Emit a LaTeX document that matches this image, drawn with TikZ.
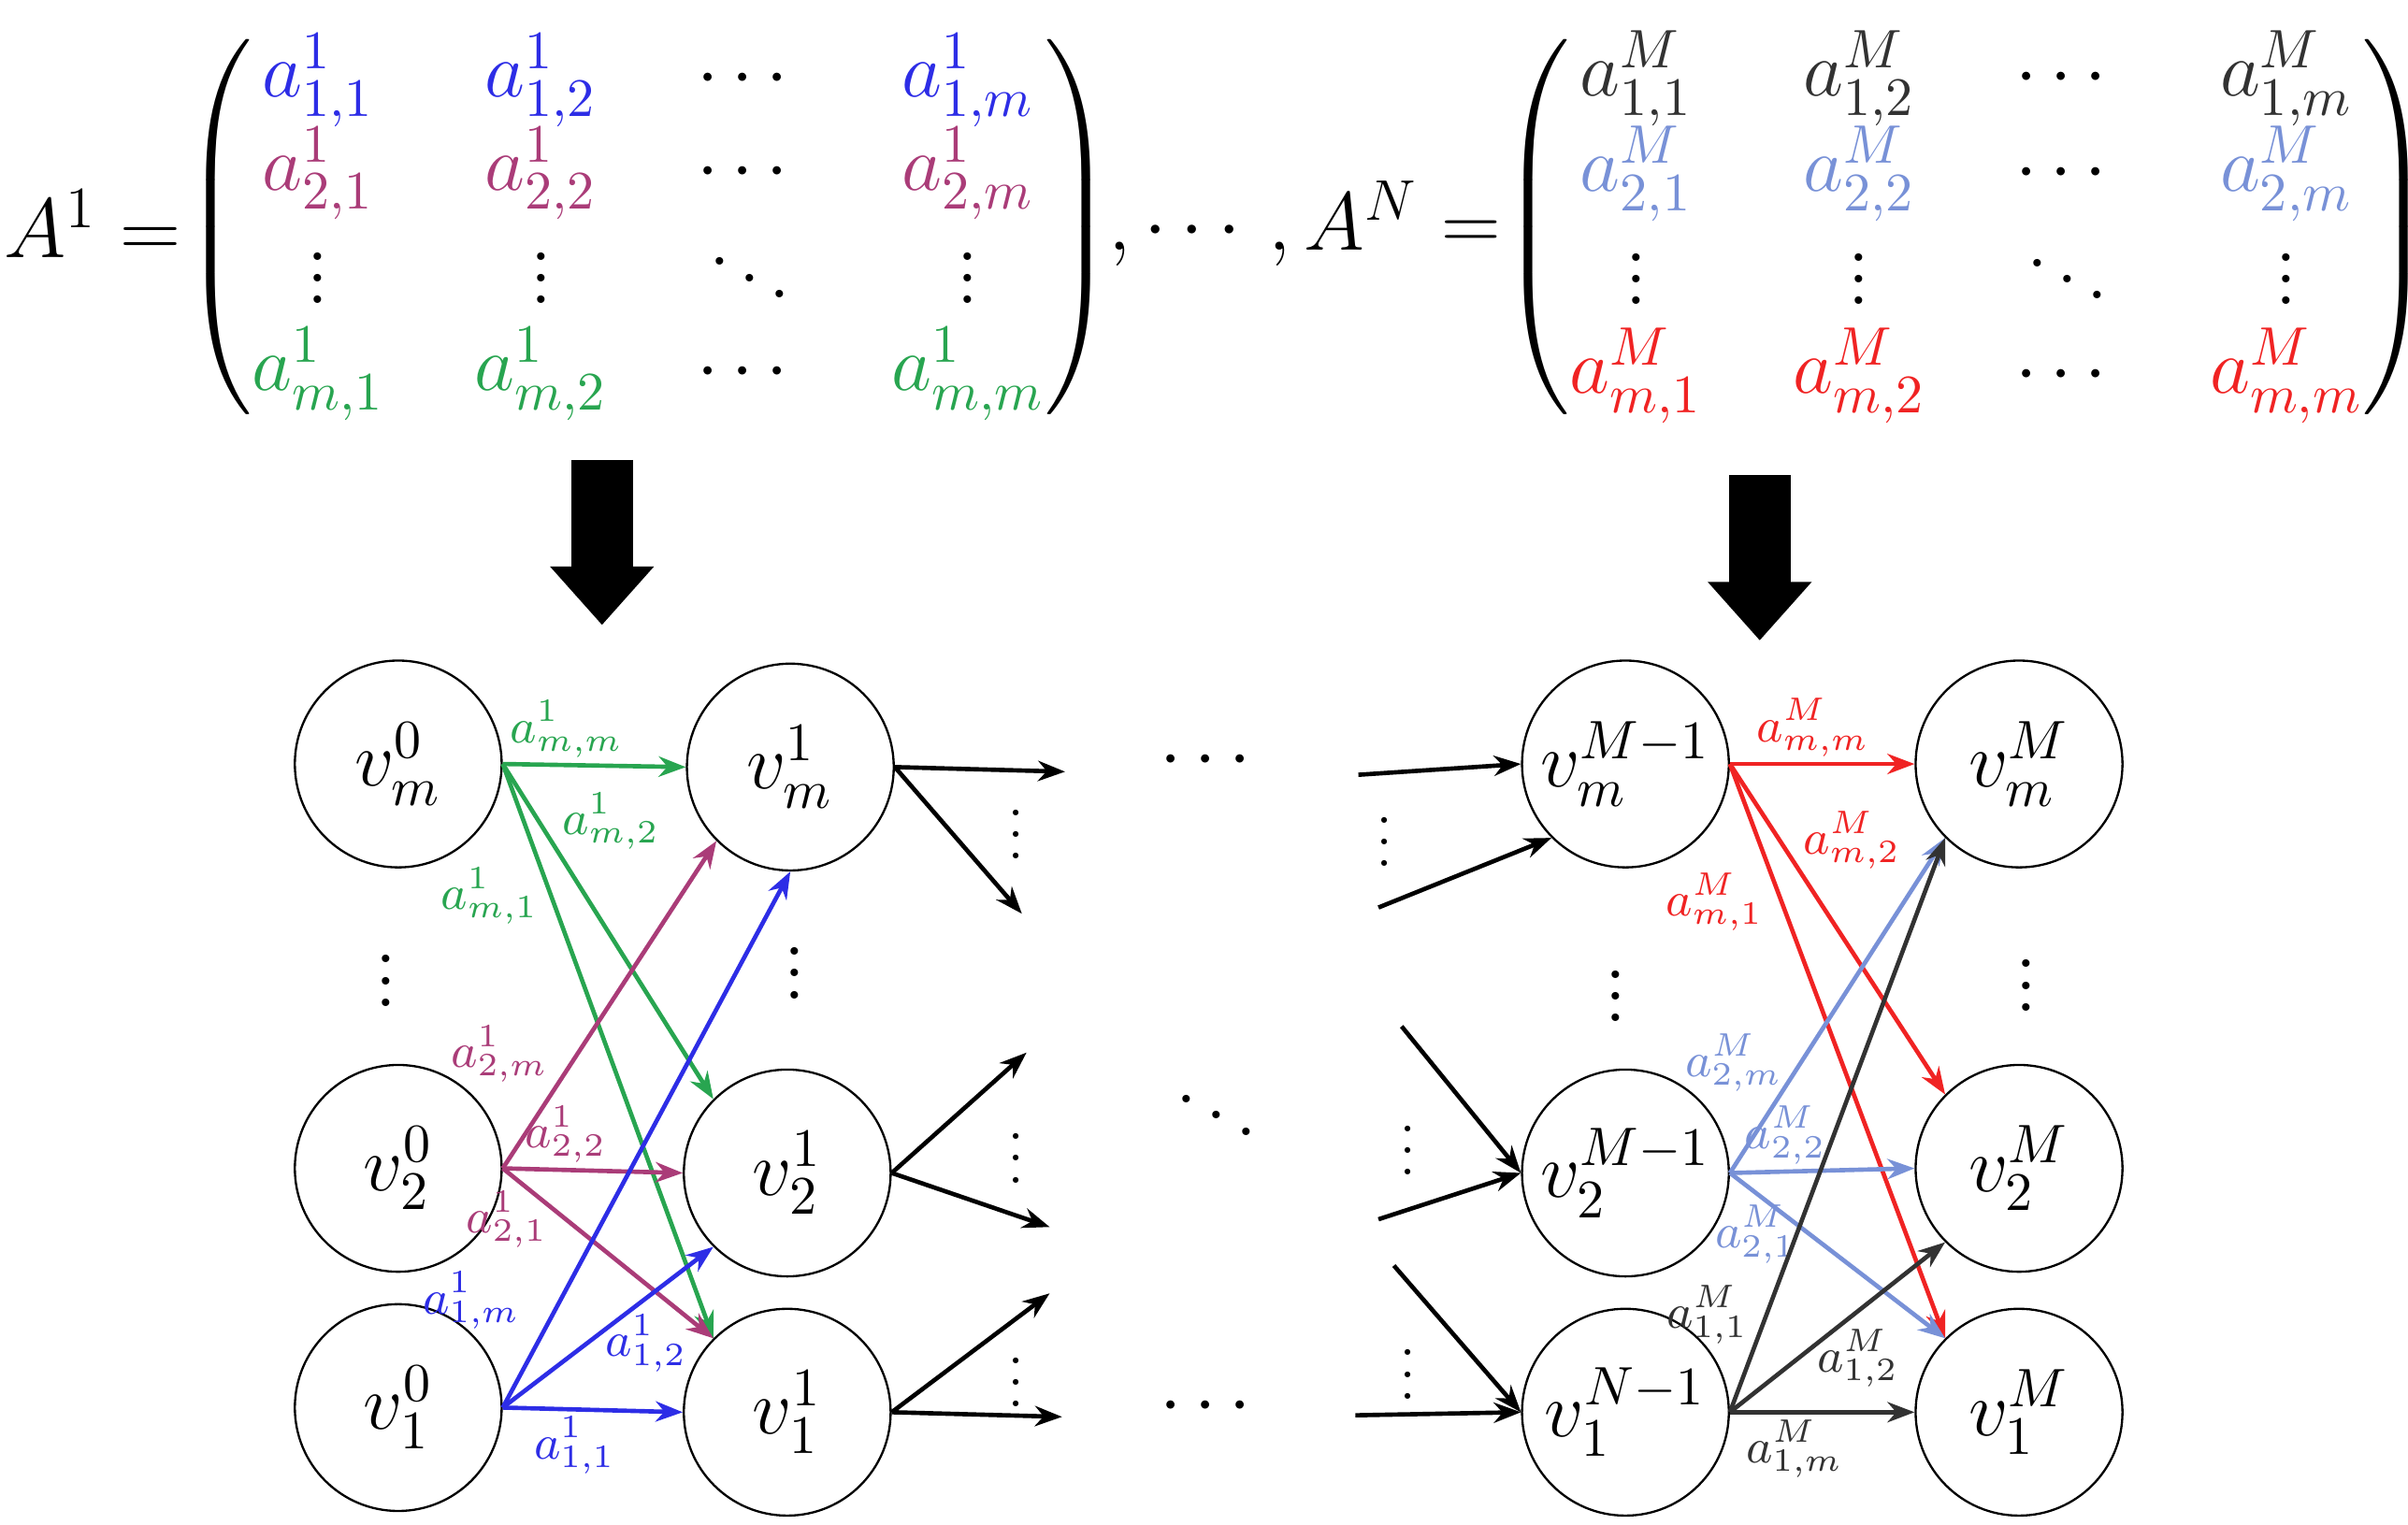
\documentclass[tikz,border=0pt]{standalone}
\usepackage{amsmath}
\usetikzlibrary{arrows.meta,positioning}
\definecolor{cblue}{RGB}{45,45,230}
\definecolor{cpurp}{RGB}{170,60,120}
\definecolor{cgreen}{RGB}{40,165,80}
\definecolor{clblue}{RGB}{120,145,215}
\definecolor{cred}{RGB}{240,35,35}
\definecolor{cdark}{RGB}{50,50,50}
\tikzset{
  vert/.style={circle,draw,minimum size=1.34cm,inner sep=0pt,font=\Large},
  edge/.style={-{Stealth[length=5pt]},thick},
  lab/.style={font=\small,inner sep=1pt},
  big/.style={line width=0.4cm,-{Triangle[length=0.38cm,width=0.65cm]}}
}
\begin{document}
\begin{tikzpicture}
  \useasboundingbox (0,0) rectangle (15.6,-9.875);
  % matrices
  \node[font=\Large,inner sep=0pt] (m1) at (4.2,-1.47) {$\setlength{\arraycolsep}{8.3pt}\renewcommand{\arraystretch}{0.8}
    \begin{pmatrix}
      \color{cblue}a^1_{1,1} & \color{cblue}a^1_{1,2} & \cdots & \color{cblue}a^1_{1,m}\\
      \color{cpurp}a^1_{2,1} & \color{cpurp}a^1_{2,2} & \cdots & \color{cpurp}a^1_{2,m}\\
      \vdots & \vdots & \ddots & \vdots\\
      \color{cgreen}a^1_{m,1} & \color{cgreen}a^1_{m,2} & \cdots & \color{cgreen}a^1_{m,m}
    \end{pmatrix}$};
  \node[font=\LARGE,scale=0.9] at (0.6,-1.45) {$A^1=$};
  \node[font=\Large,inner sep=0pt] (m2) at (12.74,-1.47) {$\setlength{\arraycolsep}{8.3pt}\renewcommand{\arraystretch}{0.8}
    \begin{pmatrix}
      \color{cdark}a^M_{1,1} & \color{cdark}a^M_{1,2} & \cdots & \color{cdark}a^M_{1,m}\\
      \color{clblue}a^M_{2,1} & \color{clblue}a^M_{2,2} & \cdots & \color{clblue}a^M_{2,m}\\
      \vdots & \vdots & \ddots & \vdots\\
      \color{cred}a^M_{m,1} & \color{cred}a^M_{m,2} & \cdots & \color{cred}a^M_{m,m}
    \end{pmatrix}$};
  \node[font=\LARGE,scale=0.88] at (8.45,-1.45) {$,\cdots,A^N=$};
  \coordinate (d1) at (3.9,-2.98);
  \coordinate (d2) at (11.4,-3.08);
  \draw[big] (d1) -- ++(0,-1.07);
  \draw[big] (d2) -- ++(0,-1.07);
  % vertices
  \node[vert] (a3) at (2.58,-4.95) {$v_m^0$};
  \node[vert] (a2) at (2.58,-7.57) {$v_2^0$};
  \node[vert] (a1) at (2.58,-9.12) {$v_1^0$};
  \node[vert] (b3) at (5.12,-4.97) {$v_m^1$};
  \node[vert] (b2) at (5.10,-7.60) {$v_2^1$};
  \node[vert] (b1) at (5.10,-9.15) {$v_1^1$};
  \node[vert] (c3) at (10.53,-4.95) {$v_m^{M-1}$};
  \node[vert] (c2) at (10.53,-7.60) {$v_2^{M-1}$};
  \node[vert] (c1) at (10.53,-9.15) {$v_1^{N-1}$};
  \node[vert] (e3) at (13.08,-4.95) {$v_m^M$};
  \node[vert] (e2) at (13.08,-7.57) {$v_2^M$};
  \node[vert] (e1) at (13.08,-9.15) {$v_1^M$};
  \foreach \x/\y in {2.5/-6.25,5.15/-6.2,10.47/-6.35,13.13/-6.28}
    \node[font=\Large] at (\x,\y) {$\vdots$};
  % left layer
  \draw[edge,cgreen] (a3.east) -- node[lab,above,pos=0.35] {$a^1_{m,m}$} (b3.west);
  \draw[edge,cgreen] (a3.east) -- node[lab,pos=0.17,right=3pt] {$a^1_{m,2}$} (b2.north west);
  \draw[edge,cgreen] (a3.east) -- node[lab,pos=0.23,left=1pt] {$a^1_{m,1}$} (b1.north west);
  \draw[edge,cpurp] (a2.east) -- node[lab,pos=0.35,left=4pt] {$a^1_{2,m}$} (b3.south west);
  \draw[edge,cpurp] (a2.east) -- node[lab,above,pos=0.35] {$a^1_{2,2}$} (b2.west);
  \draw[edge,cpurp] (a2.east) -- node[lab,pos=0.3,left=2pt] {$a^1_{2,1}$} (b1.north west);
  \draw[edge,cblue] (a1.east) -- node[lab,pos=0.2,left=6pt] {$a^1_{1,m}$} (b3.south);
  \draw[edge,cblue] (a1.east) -- node[lab,pos=0.4,right=2pt] {$a^1_{1,2}$} (b2.south west);
  \draw[edge,cblue] (a1.east) -- node[lab,below,pos=0.4] {$a^1_{1,1}$} (b1.west);
  % right layer
  \draw[edge,cred] (c3.east) -- node[lab,above,pos=0.45] {$a^M_{m,m}$} (e3.west);
  \draw[edge,cred] (c3.east) -- node[lab,pos=0.23,right=3pt] {$a^M_{m,2}$} (e2.north west);
  \draw[edge,cred] (c3.east) -- node[lab,pos=0.24,left=2pt] {$a^M_{m,1}$} (e1.north west);
  \draw[edge,clblue] (c2.east) -- node[lab,pos=0.33,left=2pt] {$a^M_{2,m}$} (e3.south west);
  \draw[edge,clblue] (c2.east) -- node[lab,above,pos=0.3] {$a^M_{2,2}$} (e2.west);
  \draw[edge,clblue] (c2.east) -- node[lab,pos=0.37,left=1pt] {$a^M_{2,1}$} (e1.north west);
  \draw[edge,cdark] (c1.east) -- node[lab,pos=0.17,left=2pt] {$a^M_{1,1}$} (e3.south west);
  \draw[edge,cdark] (c1.east) -- node[lab,pos=0.32,right=2pt] {$a^M_{1,2}$} (e2.south west);
  \draw[edge,cdark] (c1.east) -- node[lab,below,pos=0.35] {$a^M_{1,m}$} (e1.west);
  % middle
  \coordinate (o1) at (6.90,-5.00);
  \coordinate (o2) at (6.62,-5.92);
  \coordinate (o3) at (6.65,-6.82);
  \coordinate (o4) at (6.80,-7.95);
  \coordinate (o5) at (6.80,-8.38);
  \coordinate (o6) at (6.88,-9.18);
  \draw[edge] (b3.east) -- (o1);
  \draw[edge] (b3.east) -- (o2);
  \draw[edge] (b2.east) -- (o3);
  \draw[edge] (b2.east) -- (o4);
  \draw[edge] (b1.east) -- (o5);
  \draw[edge] (b1.east) -- (o6);
  \coordinate (i1) at (8.80,-5.02);
  \coordinate (i2) at (8.93,-5.88);
  \coordinate (i3) at (9.08,-6.65);
  \coordinate (i4) at (8.93,-7.90);
  \coordinate (i5) at (9.03,-8.20);
  \coordinate (i6) at (8.78,-9.17);
  \draw[edge] (i1) -- (c3.west);
  \draw[edge] (i2) -- (c3.south west);
  \draw[edge] (i3) -- (c2.west);
  \draw[edge] (i4) -- (c2.west);
  \draw[edge] (i5) -- (c1.west);
  \draw[edge] (i6) -- (c1.west);
  \foreach \x/\y in {6.58/-5.30,6.58/-7.40,6.58/-8.85,8.97/-5.35,9.12/-7.35,9.12/-8.80}
    \node at (\x,\y) {$\vdots$};
  \node[font=\Large] at (7.85,-4.93) {$\cdots$};
  \node[font=\Large] at (7.85,-9.12) {$\cdots$};
  \node[font=\Large] at (7.88,-7.12) {$\ddots$};
\end{tikzpicture}
\end{document}
